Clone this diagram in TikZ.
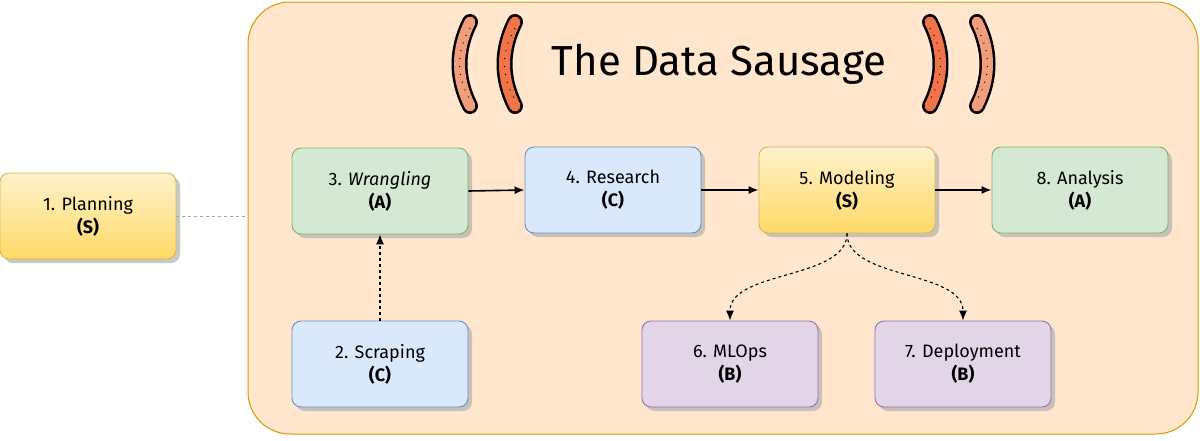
\documentclass[tikz,border=0pt]{standalone}
\usepackage{fontspec}
\setmainfont{Fira Sans}
\usetikzlibrary{arrows.meta,shadows}
\definecolor{cont}{HTML}{FFE6CC}\definecolor{contd}{HTML}{D79B00}
\definecolor{gfill}{HTML}{D5E8D4}\definecolor{gline}{HTML}{82B366}
\definecolor{bfill}{HTML}{DAE8FC}\definecolor{bline}{HTML}{6C8EBF}
\definecolor{pfill}{HTML}{E1D5E7}\definecolor{pline}{HTML}{9673A6}
\definecolor{ytop}{HTML}{FFF2CC}\definecolor{ybot}{HTML}{FFD966}\definecolor{yline}{HTML}{D6B656}
\definecolor{sA}{HTML}{F19C7A}\definecolor{sB}{HTML}{F0744A}
\tikzset{
 box/.style={rounded corners=9pt,line width=0.9pt,minimum width=176pt,minimum height=86pt,align=center,font=\fontsize{18}{23}\selectfont,drop shadow={shadow xshift=4pt,shadow yshift=-4pt,fill=black!30,opacity=0.7}},
 gbox/.style={box,fill=gfill,draw=gline},
 bbox/.style={box,fill=bfill,draw=bline},
 pbox/.style={box,fill=pfill,draw=pline},
 ybox/.style={box,top color=ytop,bottom color=ybot,draw=yline},
 flow/.style={-{Latex[length=10pt,width=8pt]},line width=1.6pt},
 dflow/.style={-{Latex[length=10pt,width=8pt]},line width=1.1pt,dashed},
}
\newcommand{\sausage}[4]{% x, y, bend, colour
 \draw[line width=16pt,line cap=round,black] (#1,#2) .. controls ({#1+#3},{#2+28}) and ({#1+#3},{#2+56}) .. (#1,{#2+84});
 \draw[line width=11pt,line cap=round,#4] (#1,#2) .. controls ({#1+#3},{#2+28}) and ({#1+#3},{#2+56}) .. (#1,{#2+84});
 \draw[line width=1pt,dash pattern=on 1pt off 7pt,black] (#1,{#2+6}) .. controls ({#1+#3},{#2+30}) and ({#1+#3},{#2+54}) .. (#1,{#2+78});
}
\begin{document}
\begin{tikzpicture}[x=1pt,y=-1pt]
\useasboundingbox (0,0) rectangle (1200,440);
\fill[white] (0,0) rectangle (1200,440);
\draw[fill=cont,draw=contd,line width=1pt,rounded corners=42pt] (248,2) rectangle (1198,434);
\sausage{470}{22}{-14}{sA}
\sausage{515}{22}{-14}{sB}
\sausage{930}{22}{14}{sB}
\sausage{977}{22}{14}{sA}
\node[font=\fontsize{42}{48}\selectfont] (title) at (719,64) {The Data Sausage};
\node[ybox] (plan) at (88,216) {1. Planning\\\textbf{(S)}};
\node[gbox] (wr) at (380,191) {3. \textit{Wrangling}\\\textbf{(A)}};
\node[bbox] (re) at (613,190) {4. Research\\\textbf{(C)}};
\node[ybox] (mo) at (847,190) {5. Modeling\\\textbf{(S)}};
\node[gbox] (an) at (1080,190) {8. Analysis\\\textbf{(A)}};
\node[bbox] (sc) at (380,364) {2. Scraping\\\textbf{(C)}};
\node[pbox] (ml) at (730,364) {6. MLOps\\\textbf{(B)}};
\node[pbox] (de) at (963,364) {7. Deployment\\\textbf{(B)}};
\coordinate (cl) at (248,216);
\draw[dashed,gray!70,line width=0.8pt] (plan.east) -- (cl);
\draw[flow] (wr.east) -- (re.west);
\draw[flow] (re.east) -- (mo.west);
\draw[flow] (mo.east) -- (an.west);
\draw[dflow] (sc.north) -- (wr.south);
\draw[dflow] (mo.south) .. controls (847,280) and (730,270) .. (ml.north);
\draw[dflow] (mo.south) .. controls (847,280) and (963,270) .. (de.north);
\end{tikzpicture}
\end{document}
